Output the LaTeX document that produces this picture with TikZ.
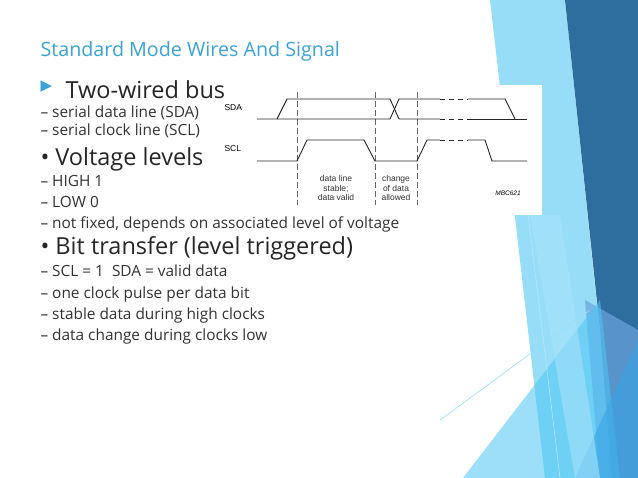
\documentclass[tikz,border=0pt]{standalone}
\usepackage{fontspec}
\setmainfont{Open Sans}
\newfontfamily\dv{DejaVu Sans}
\newfontfamily\arl{Liberation Sans}
\definecolor{steel}{HTML}{2E6E9E}
\definecolor{ttl}{HTML}{3AA3D8}
\begin{document}
\begin{tikzpicture}[x=1pt,y=-1pt,
  big/.style={anchor=base west,font=\fontsize{23.5}{26}\selectfont,text=black!85},
  small/.style={anchor=base west,font=\fontsize{15.4}{18}\selectfont,text=black!80},
  sig/.style={line width=0.9pt,black!85},
  dsh/.style={line width=0.8pt,black!85,dash pattern=on 5pt off 4pt},
  vline/.style={line width=0.5pt,black!60,dash pattern=on 6pt off 3pt},
  lab/.style={font=\arl\fontsize{8.5}{9.5}\selectfont,align=center,text=black!80}]
\useasboundingbox (0,0) rectangle (638,478);
\fill[white] (0,0) rectangle (638,478);
% decorations
\fill[cyan!45!white,opacity=0.9] (490,0)--(565,0)--(615,478)--(545,478)--cycle;
\fill[steel] (565,0)--(638,0)--(638,478)--(612,478)--(600,330)--cycle;
\fill[cyan!60!blue!60,opacity=0.7] (585,300)--(638,330)--(638,478)--(600,478)--cycle;
\fill[cyan!70!white,opacity=0.55] (463,478)--(600,300)--(620,478)--cycle;
\fill[cyan!80!blue!80,opacity=0.6] (575,478)--(638,340)--(638,478)--cycle;
\fill[cyan!35!white,opacity=0.6] (530,215)--(560,215)--(600,478)--(575,478)--cycle;
\draw[cyan!40,line width=0.6pt] (440,420)--(590,310);
\draw[cyan!30,line width=0.6pt] (528,213)--(560,478);
% image box
\fill[white] (212,85) rectangle (542,215);
% title and text
\node[anchor=base west,font=\fontsize{19.7}{22}\selectfont,text=ttl] (title) at (37,57) {Standard Mode Wires And Signal};
\node[anchor=base west,font=\dv\fontsize{15}{16}\selectfont,text=ttl] (arr) at (37,91) {▶};
\node[big] (b1) at (62,99) {Two-wired bus};
\node[small] (s1) at (37,118) {– serial data line (SDA)};
\node[small] (s2) at (37,136) {– serial clock line (SCL)};
\node[big] (b2) at (37,166) {• Voltage levels};
\node[small] (s3) at (37,187) {– HIGH 1};
\node[small] (s4) at (37,208) {– LOW 0};
\node[small] (s5) at (37,229) {– not fixed, depends on associated level of voltage};
\node[big] (b3) at (37,255) {• Bit transfer (level triggered)};
\node[small] (s6) at (37,277) {– SCL = 1\ \ SDA = valid data};
\node[small] (s7) at (37,299) {– one clock pulse per data bit};
\node[small] (s8) at (37,320) {– stable data during high clocks};
\node[small] (s9) at (37,341) {– data change during clocks low};
% timing diagram
\node[font=\arl\fontsize{8.5}{9}\selectfont,anchor=west] (sda) at (221,108) {SDA};
\node[font=\arl\fontsize{8.5}{9}\selectfont,anchor=west] (scl) at (221,149) {SCL};
\foreach \x in {297,375,417} \draw[vline] (\x,92)--(\x,205);
\draw[sig] (257,119)--(390,119)--(399,99)--(440,99);
\draw[sig] (277,119)--(287,99)--(390,99)--(399,119)--(440,119);
\draw[dsh] (440,99)--(468,99); \draw[dsh] (440,119)--(468,119);
\draw[sig] (468,99)--(505,99)--(515,119); \draw[sig] (468,119)--(527,119);
\draw[sig] (257,161)--(297,161)--(307,140)--(364,140)--(375,161)--(417,161)--(427,140)--(440,140);
\draw[dsh] (440,140)--(468,140);
\draw[sig] (468,140)--(485,140)--(492,161)--(527,161);
\node[lab] (l1) at (336,188) {data line\\stable;\\data valid};
\node[lab] (l2) at (396,188) {change\\of data\\allowed};
\node[font=\arl\itshape\fontsize{6.5}{7}\selectfont] (mbc) at (508,193) {MBC621};
\end{tikzpicture}
\end{document}
